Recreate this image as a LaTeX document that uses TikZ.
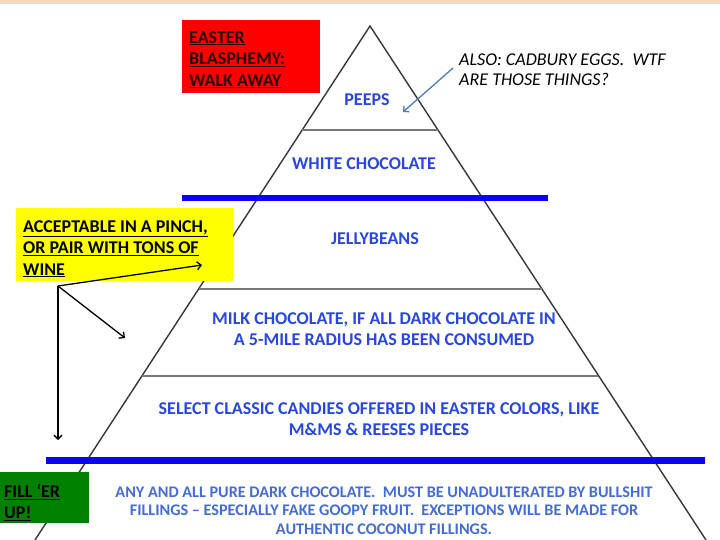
\documentclass[tikz,border=0pt]{standalone}
\usepackage{fontspec}
\setmainfont{Carlito}
\usetikzlibrary{arrows.meta}
\definecolor{pyrblue}{RGB}{40,70,225}
\definecolor{botblue}{RGB}{68,108,214}
\definecolor{lineblue}{RGB}{10,0,245}
\definecolor{edgegray}{RGB}{55,55,55}
\definecolor{tiergray}{RGB}{120,120,120}
\definecolor{arrblue}{RGB}{74,126,187}
\definecolor{boxred}{RGB}{255,0,0}
\definecolor{boxyellow}{RGB}{255,255,0}
\definecolor{boxgreen}{RGB}{0,128,0}
\definecolor{redtext}{RGB}{45,0,0}
\definecolor{peach}{RGB}{246,218,190}
\tikzset{
  tierlabel/.style={font=\bfseries\fontsize{18}{21}\selectfont, text=pyrblue, align=center, inner sep=0pt},
  edgeline/.style={draw=edgegray, line width=1.4pt},
  tierline/.style={draw=tiergray, line width=1.6pt},
  bigblue/.style={draw=lineblue, line width=6.5pt},
  notetext/.style={font=\bfseries\fontsize{18}{21.5}\selectfont, align=left, inner sep=0pt, anchor=north west},
  blackarrow/.style={draw=black, line width=1.3pt, -{Straight Barb[length=4pt,width=8pt]}},
}
\begin{document}
\begin{tikzpicture}[x=1pt,y=-1pt]
\useasboundingbox (0,0) rectangle (720,540);
\fill[white] (0,0) rectangle (720,540);
% top band
\fill[peach] (0,0) rectangle (720,2.6);
\draw[gray!25, line width=0.6pt] (0,3.6) -- (720,3.6);

% pyramid
\coordinate (apex) at (370,26);
\coordinate (bl) at (35,540);
\coordinate (br) at (706,540);
\draw[edgeline] (bl) -- (apex) -- (br);
\coordinate (t1l) at (302,130); \coordinate (t1r) at (438,130);
\coordinate (t2l) at (198.5,289); \coordinate (t2r) at (541.5,289);
\coordinate (t3l) at (142,376); \coordinate (t3r) at (598,376);
\draw[tierline] (t1l) -- (t1r);
\draw[tierline] (t2l) -- (t2r);
\draw[tierline] (t3l) -- (t3r);

% blue separators
\coordinate (b1l) at (182,198); \coordinate (b1r) at (548,198);
\coordinate (b2l) at (46,460.5); \coordinate (b2r) at (705,460.5);
\draw[bigblue] (b1l) -- (b1r);
\draw[bigblue] (b2l) -- (b2r);

% tier labels
\node[tierlabel] (peeps) at (367,100) {PEEPS};
\node[tierlabel] (white) at (364,164) {WHITE CHOCOLATE};
\node[tierlabel] (jelly) at (375,239) {JELLYBEANS};
\node[tierlabel] (milk) at (384,329.5) {MILK CHOCOLATE, IF ALL DARK CHOCOLATE IN\\A 5-MILE RADIUS HAS BEEN CONSUMED};
\node[tierlabel] (select) at (379,419) {SELECT CLASSIC CANDIES OFFERED IN EASTER COLORS, LIKE\\M\&MS \& REESES PIECES};
\node[font=\bfseries\fontsize{16.2}{18.7}\selectfont, text=botblue, align=center, inner sep=0pt] (dark) at (384,510.5)
 {ANY AND ALL PURE DARK CHOCOLATE.\ \ MUST BE UNADULTERATED BY BULLSHIT\\FILLINGS – ESPECIALLY FAKE GOOPY FRUIT.\ \ EXCEPTIONS WILL BE MADE FOR\\AUTHENTIC COCONUT FILLINGS.};

% red box
\fill[boxred] (182,20) rectangle (320,93);
\node[notetext, text=redtext] (blas) at (189,31) {\underline{EASTER}\\\underline{BLASPHEMY:}\\\underline{WALK AWAY}};

% cadbury note
\node[font=\itshape\fontsize{18}{20}\selectfont, align=left, inner sep=0pt, anchor=north west] (also) at (459,54) {ALSO: CADBURY EGGS.\ \ WTF\\ARE THOSE THINGS?};
\coordinate (cadS) at (453,68);
\coordinate (cadE) at (403,112);
\draw[draw=arrblue, line width=1.3pt, -{Straight Barb[length=4pt,width=8pt]}] (cadS) -- (cadE);

% yellow box
\fill[boxyellow] (16,208) rectangle (233,281);
\node[notetext, text=black] (pinch) at (23,220) {\underline{ACCEPTABLE IN A PINCH,}\\\underline{OR PAIR WITH TONS OF}\\\underline{WINE}};

% arrows from yellow box
\coordinate (o) at (58,286);
\coordinate (a1) at (202,265);
\coordinate (a2) at (125,338);
\coordinate (a3) at (58,440);
\draw[blackarrow] (o) -- (a1);
\draw[blackarrow] (o) -- (a2);
\draw[blackarrow] (o) -- (a3);

% green box
\fill[boxgreen] (0,472) rectangle (89,523);
\node[notetext, text=black] (fill) at (4,484) {\underline{FILL ‘ER}\\\underline{UP!}};
\end{tikzpicture}
\end{document}
